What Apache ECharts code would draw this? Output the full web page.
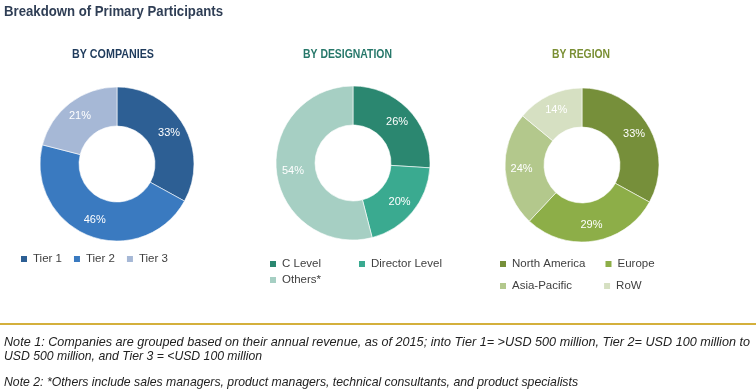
<!DOCTYPE html>
<html>
<head>
<meta charset="utf-8">
<script src="https://cdn.jsdelivr.net/npm/echarts@6/dist/echarts.min.js"></script>
<style>html,body{margin:0;padding:0;background:#fff;}#c{width:756px;height:392px;}</style>
</head>
<body>
<div id="c"></div>
<script>
const companyNames = ['Tier 1', 'Tier 2', 'Tier 3'];
const companyValues = [33, 46, 21];
const designationNames = ['C Level', 'Director Level', 'Others*'];
const designationValues = [26, 20, 54];
const regionNames = ['North America', 'Europe', 'Asia-Pacific', 'RoW'];
const regionValues = [33, 29, 24, 14];

const mainTitle = 'Breakdown of Primary Participants';
const subTitles = ['BY COMPANIES', 'BY DESIGNATION', 'BY REGION'];
const notes = [
  'Note 1: Companies are grouped based on their annual revenue, as of 2015; into Tier 1= >USD 500 million, Tier 2= USD 100 million to',
  'USD 500 million, and Tier 3 = <USD 100 million',
  'Note 2: *Others include sales managers, product managers, technical consultants, and product specialists'
];

const companyColors = ['#2D5F94', '#3A7AC0', '#A6B8D6'];
const designationColors = ['#2B8770', '#3AAA90', '#A6CFC3'];
const regionColors = ['#768F3A', '#8DAE48', '#B3C88C', '#D6E0C2'];

const chart = echarts.init(document.getElementById('c'), null, {renderer: 'canvas'});

const ctx = document.createElement('canvas').getContext('2d');
function scaleFor(text, font, target) {
  ctx.font = font;
  return target / ctx.measureText(text).width;
}
function textEl(text, font, x, y, align, scale, color) {
  return {
    type: 'text', x: x, y: y, silent: true,
    scaleX: scale,
    style: {text: text, font: font, fill: color, align: align, verticalAlign: 'middle'}
  };
}

function mk(names, values, colors) {
  return names.map((n, i) => ({name: n, value: values[i], itemStyle: {color: colors[i]}}));
}
function pie(center, names, values, colors) {
  return {
    type: 'pie',
    center: center,
    radius: [38, 77],
    startAngle: 90,
    clockwise: true,
    animation: false,
    silent: true,
    itemStyle: {borderColor: '#ffffff', borderWidth: 0.6},
    label: {show: true, position: 'inside', formatter: '{c}%', color: '#ffffff', fontSize: 11, fontFamily: 'Liberation Sans'},
    labelLine: {show: false},
    data: mk(names, values, colors)
  };
}
const legendText = {color: '#404040', fontSize: 11.5, fontFamily: 'Liberation Sans'};
function lg(names, left, top, gap) {
  return {data: names, left: left, top: top, orient: 'horizontal', icon: 'rect', itemWidth: 8, itemHeight: 8, itemGap: gap, textStyle: legendText, padding: 0, selectedMode: false};
}

const titleFont = 'bold 14px "Liberation Sans"';
const subFont = 'bold 12.5px "Liberation Sans"';
const noteFont = 'italic 13px "Liberation Sans"';

chart.setOption({
  backgroundColor: '#ffffff',
  legend: [
    lg(companyNames, 19, 253, 10),
    lg(designationNames.slice(0, 2), 268, 258, 36),
    lg(designationNames.slice(2), 268, 274, 10),
    lg(regionNames.slice(0, 2), 498, 258, 18),
    lg(regionNames.slice(2), 498, 280, 30)
  ],
  series: [
    pie([117, 164], companyNames, companyValues, companyColors),
    pie([353, 163], designationNames, designationValues, designationColors),
    pie([582, 165], regionNames, regionValues, regionColors)
  ],
  graphic: [
    textEl(mainTitle, titleFont, 4, 12, 'left', scaleFor(mainTitle, titleFont, 219), '#2F3E55'),
    textEl(subTitles[0], subFont, 113, 54.5, 'center', scaleFor(subTitles[0], subFont, 82), '#1F3B5C'),
    textEl(subTitles[1], subFont, 347.5, 54.5, 'center', scaleFor(subTitles[1], subFont, 89), '#27786A'),
    textEl(subTitles[2], subFont, 581, 54.5, 'center', scaleFor(subTitles[2], subFont, 58), '#7A8F34'),
    {type: 'rect', shape: {x: 0, y: 323, width: 756, height: 2}, style: {fill: '#D4B03C'}, silent: true},
    textEl(notes[0], noteFont, 4, 342.5, 'left', scaleFor(notes[0], noteFont, 746), '#222222'),
    textEl(notes[1], noteFont, 4, 356.5, 'left', scaleFor(notes[1], noteFont, 258), '#222222'),
    textEl(notes[2], noteFont, 4, 382.5, 'left', scaleFor(notes[2], noteFont, 574), '#222222')
  ]
});
</script>
</body>
</html>
